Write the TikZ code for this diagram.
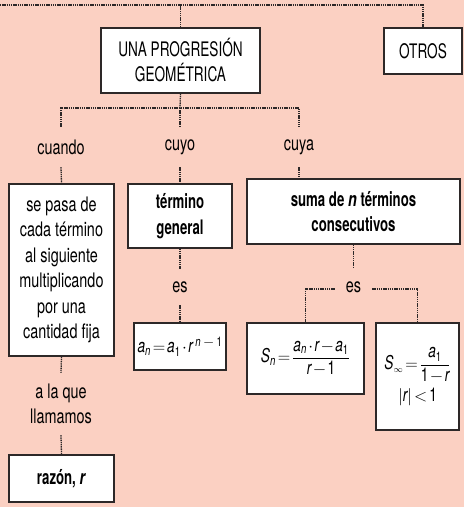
\documentclass[tikz,border=0pt]{standalone}
\usepackage{amsmath}
\usepackage{fontspec}
\setmainfont{TeX Gyre Heros}[FakeStretch=0.72, BoldFeatures={FakeStretch=0.66}]
\newfontfamily\capsfont{TeX Gyre Heros}[FakeStretch=0.68]
\usepackage{tikz}
\usetikzlibrary{positioning}
\definecolor{peach}{RGB}{251,208,194}
\definecolor{linegray}{RGB}{45,40,40}
\newcommand{\mv}[1]{\textit{#1}}
\newcommand{\mn}[1]{\text{#1}}
\newcommand{\tight}{\thickmuskip=2mu plus 1mu\medmuskip=1.5mu}

\begin{document}
\begin{tikzpicture}[
    x=1pt, y=-1pt,
    box/.style={rectangle, draw=linegray, line width=1.3pt, fill=white, align=center, inner sep=0pt, font=\fontsize{20}{25.5}\selectfont},
    word/.style={align=center, inner sep=0pt, font=\fontsize{20}{25}\selectfont},
    dots/.style={draw=linegray, line width=1.3pt, dash pattern=on 1.4pt off 0.8pt}
]

% Background and frame
\fill[peach] (0,0) rectangle (464,507);
\useasboundingbox (0,0) rectangle (464,507);

% Top layer
\node[box, minimum width=159pt, minimum height=65pt, font=\capsfont\fontsize{20}{25}\selectfont] (main) at (180.5,60.5) {UNA PROGRESIÓN\\GEOMÉTRICA};
\node[box, minimum width=78pt, minimum height=46pt, font=\capsfont\fontsize{20}{25}\selectfont] (otros) at (423,51) {OTROS};
\coordinate (top) at (0,5);

% Branch words
\node[word, minimum height=40pt] (cuando) at (61,147) {cuando};
\node[word, minimum height=40pt] (cuyo) at (180,147) {cuyo};
\node[word, minimum height=40pt] (cuya) at (299,147) {cuya};
\coordinate (bar) at (180,108);

% Left column
\node[box, minimum width=105pt, minimum height=172pt] (pasa) at (61.5,270) {se pasa de\\cada término\\al siguiente\\multiplicando\\por una\\cantidad fija};
\node[word, minimum height=62pt] (llamamos) at (61,404) {a la que\\llamamos};
\node[box, minimum width=105pt, minimum height=47pt] (razon) at (61.5,478.5) {\bfseries razón, \mv{r}};

% Middle column
\node[box, minimum width=104pt, minimum height=64pt] (termino) at (180,216) {\bfseries término\\\bfseries general};
\node[word, minimum height=36pt] (es1) at (180,287) {es};
\node[box, minimum width=92pt, minimum height=47pt, font=\fontsize{19}{24}\selectfont] (an) at (180,346.5) {$\tight\mv{a}_{\mv{n}} = \mv{a}_{\mn{1}} \cdot \mv{r}^{\,\mv{n}\,-\,\mn{1}}$};

% Right column
\node[box, minimum width=213pt, minimum height=65pt] (suma) at (353.5,211.5) {\bfseries suma de \mv{n} términos\\\bfseries consecutivos};
\node[word, minimum height=36pt, minimum width=37pt] (es2) at (353.5,287) {es};
\node[box, minimum width=117pt, minimum height=71pt, font=\fontsize{19}{24}\selectfont] (sn) at (305.5,358.5) {$\tight\mv{S}_{\mv{n}} = \dfrac{\mv{a}_{\mv{n}} \cdot \mv{r} - \mv{a}_{\mn{1}}}{\mv{r} - \mn{1}}$};
\node[box, minimum width=83pt, minimum height=107pt, font=\fontsize{19}{24}\selectfont] (sinf) at (417.5,376.5) {$\tight\mv{S}_{\scriptscriptstyle\infty} = \dfrac{\mv{a}_{\mn{1}}}{\mn{1} - \mv{r}}$\\[4pt]$\tight|\mv{r}| < \mn{1}$};

% Connections - top line
\draw[dots] (top) -| (otros.north);
\draw[dots] (main.north) -- (main.north |- top);

% Connections - main to branch words
\draw[dots] (main.south) -- (bar);
\draw[dots] (cuando.north) -- (cuando.north |- bar) -- (cuya.north |- bar) -- (cuya.north);
\draw[dots] (bar) -- (cuyo.north);

% Connections - branch words to boxes
\draw[dots] (cuando.south) -- (pasa.north);
\draw[dots] (cuyo.south) -- (termino.north);
\draw[dots] (cuya.south) -- (cuya.south |- suma.north);

% Connections - left column
\draw[dots] (pasa.south) -- (llamamos.north);
\draw[dots] (llamamos.south) -- (razon.north);

% Connections - middle column
\draw[dots] (termino.south) -- (es1.north);
\draw[dots] (es1.south) -- (an.north);

% Connections - right column
\draw[dots] (suma.south) -- (es2.north);
\draw[dots] ([yshift=-2pt]es2.west) -| (sn.north);
\draw[dots] ([yshift=-2pt]es2.east) -| (sinf.north);

\end{tikzpicture}
\end{document}
